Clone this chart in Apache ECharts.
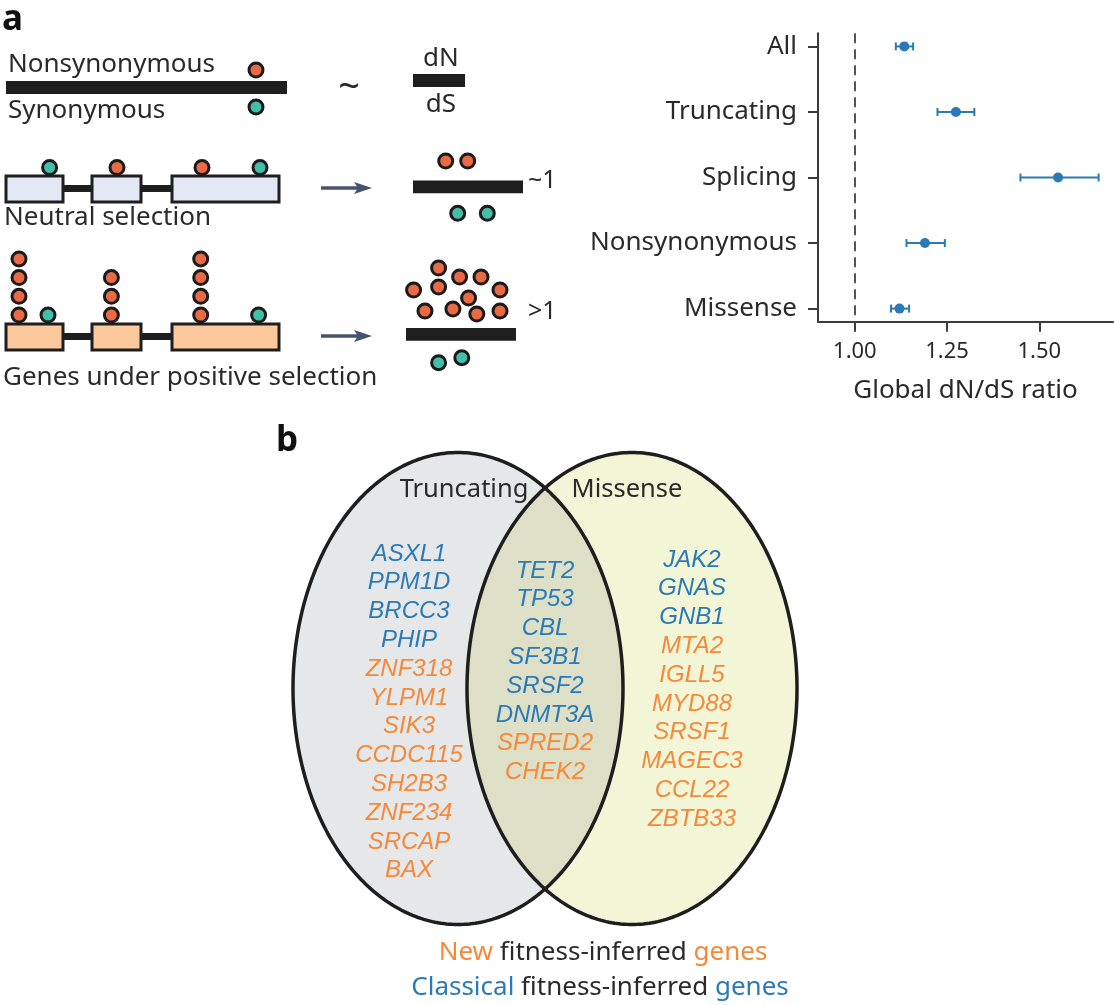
<!DOCTYPE html>
<html>
<head>
<meta charset="utf-8">
<script src="https://cdn.jsdelivr.net/npm/echarts@6/dist/echarts.min.js"></script>
<style>html,body{margin:0;padding:0;background:#fff}#chart{width:1114px;height:1005px}</style>
</head>
<body>
<div id="chart"></div>
<script>
// ---- data ----
const categories = ['All', 'Truncating', 'Splicing', 'Nonsynonymous', 'Missense'];
const ratio  = [1.134, 1.274, 1.551, 1.190, 1.121];
const ciLow  = [1.111, 1.224, 1.449, 1.140, 1.098];
const ciHigh = [1.158, 1.324, 1.661, 1.244, 1.147];
const xTickValues = [1.00, 1.25, 1.50];
const xAxisTitle = 'Global dN/dS ratio';

const truncatingOnlyGenes = ['ASXL1','PPM1D','BRCC3','PHIP','ZNF318','YLPM1','SIK3','CCDC115','SH2B3','ZNF234','SRCAP','BAX'];
const sharedGenes = ['TET2','TP53','CBL','SF3B1','SRSF2','DNMT3A','SPRED2','CHEK2'];
const missenseOnlyGenes = ['JAK2','GNAS','GNB1','MTA2','IGLL5','MYD88','SRSF1','MAGEC3','CCL22','ZBTB33'];
const classicalGenes = ['ASXL1','PPM1D','BRCC3','PHIP','TET2','TP53','CBL','SF3B1','SRSF2','DNMT3A','JAK2','GNAS','GNB1'];

// ---- styles ----
const FONT = '"Noto Sans", sans-serif';
const GENE_FONT = '"Liberation Sans", Arial, sans-serif';
const BLUE = '#2a7ab8';
const ORANGE = '#f5893a';
const DARK = '#1e1e1e';
const TXT = '#2a2a2a';
const DOT_O = '#ea6a45';
const DOT_T = '#45bea8';

const chart = echarts.init(document.getElementById('chart'), null, {renderer: 'canvas'});

const g = [];
function txt(x, y, text, opt) {
  opt = opt || {};
  g.push({type: 'text', x: x, y: y, z: 10, style: Object.assign({
    text: text, fill: TXT, fontSize: 26, fontFamily: FONT, align: 'left', verticalAlign: 'middle'
  }, opt)});
}
function rect(x, y, w, h, fill, stroke, lw) {
  g.push({type: 'rect', shape: {x: x, y: y, width: w, height: h}, z: 5,
    style: {fill: fill, stroke: stroke || null, lineWidth: lw || 0}});
}
function dot(x, y, fill) {
  g.push({type: 'circle', shape: {cx: x, cy: y, r: 7}, z: 6,
    style: {fill: fill, stroke: '#1b1b1b', lineWidth: 3}});
}
function arrow(x1, x2, y) {
  g.push({type: 'line', shape: {x1: x1, y1: y, x2: x2 - 12, y2: y}, z: 5,
    style: {stroke: '#46536e', lineWidth: 3.5}});
  g.push({type: 'polygon', shape: {points: [[x2, y], [x2 - 18, y - 6], [x2 - 14, y], [x2 - 18, y + 6]]}, z: 5,
    style: {fill: '#46536e'}});
}
function gene(y, fill) {
  rect(63, y + 9, 30, 7, DARK);
  rect(140, y + 9, 33, 7, DARK);
  [[6, 57], [92, 49], [172, 107]].forEach(b => rect(b[0], y, b[1], 26, fill, DARK, 3));
}

// panel labels
txt(2, 20, 'a', {fontSize: 35, fontWeight: 'bold', fill: '#111'});
txt(276, 441, 'b', {fontSize: 35, fontWeight: 'bold', fill: '#111'});

// row 1
txt(8, 65, 'Nonsynonymous');
rect(6, 81, 281, 13, DARK);
txt(8, 111, 'Synonymous');
dot(256, 70, DOT_O);
dot(256, 107, DOT_T);
txt(349, 88, '~', {align: 'center', fontSize: 38});
txt(441, 59, 'dN', {align: 'center'});
rect(413, 74, 52, 13, DARK);
txt(441, 105, 'dS', {align: 'center'});

// row 2
gene(176, '#e3e8f4');
[[49.6, DOT_T], [117, DOT_O], [202, DOT_O], [260, DOT_T]].forEach(d => dot(d[0], 167.5, d[1]));
txt(4, 218, 'Neutral selection');
arrow(321, 372, 188);
dot(445.7, 161, DOT_O); dot(467.7, 161, DOT_O);
rect(413, 180.5, 110, 12.8, DARK);
txt(528, 181, '~1', {fontSize: 25});
dot(457.7, 213.3, DOT_T); dot(487.3, 213.3, DOT_T);

// row 3
gene(324, '#fbc99b');
const stackY = [315, 296.3, 277.6, 258.9];
[[19, 4], [111.4, 3], [200.7, 4]].forEach(s => { for (let i = 0; i < s[1]; i++) dot(s[0], stackY[i], DOT_O); });
dot(48, 315, DOT_T); dot(258.6, 315, DOT_T);
txt(3, 378, 'Genes under positive selection');
arrow(321, 372, 336);
[[438.6,268],[459.6,277],[481,277],[413.6,290],[438.6,287],[468.6,298],[500,290],[425,311],[452.9,309],[476.8,314],[500,311]]
  .forEach(p => dot(p[0], p[1], DOT_O));
rect(406, 328, 110, 12.8, DARK);
txt(528, 312, '>1', {fontSize: 25});
dot(438.6, 362.7, DOT_T); dot(461.8, 357.7, DOT_T);

// ---- Venn ----
const cy = 688.5, rx = 165, ry = 236, cxL = 458, cxR = 632;
function ellipsePts(cx) {
  const pts = [];
  for (let i = 0; i < 360; i++) {
    const t = i / 360 * Math.PI * 2;
    pts.push([cx + rx * Math.cos(t), cy + ry * Math.sin(t)]);
  }
  return pts;
}
g.push({type: 'polygon', z: 1, shape: {points: ellipsePts(cxL)}, style: {fill: '#e6e7e9'}});
g.push({type: 'polygon', z: 1, shape: {points: ellipsePts(cxR)}, style: {fill: '#f2f6d6'}});
(function () {
  const s = (cxR - cxL) / (2 * rx);
  const dyMax = ry * Math.sqrt(1 - s * s);
  const pts = [];
  const N = 200;
  for (let i = 0; i <= N; i++) {
    const t = -dyMax + 2 * dyMax * i / N;
    pts.push([cxL + rx * Math.sqrt(Math.max(0, 1 - (t / ry) ** 2)), cy + t]);
  }
  for (let i = N; i >= 0; i--) {
    const t = -dyMax + 2 * dyMax * i / N;
    pts.push([cxR - rx * Math.sqrt(Math.max(0, 1 - (t / ry) ** 2)), cy + t]);
  }
  g.push({type: 'polygon', z: 2, shape: {points: pts}, style: {fill: '#dddfc7'}});
})();
g.push({type: 'polygon', z: 3, shape: {points: ellipsePts(cxL)}, style: {fill: null, stroke: DARK, lineWidth: 3.5}});
g.push({type: 'polygon', z: 3, shape: {points: ellipsePts(cxR)}, style: {fill: null, stroke: DARK, lineWidth: 3.5}});

txt(464, 490, 'Truncating', {align: 'center', fontSize: 25.5});
txt(627, 490, 'Missense', {align: 'center', fontSize: 25.5});

function geneColumn(list, cx, y0) {
  list.forEach((name, i) => txt(cx, y0 + i * 28.8, name, {
    align: 'center', fontSize: 24, fontStyle: 'italic', fontFamily: GENE_FONT,
    fill: classicalGenes.indexOf(name) >= 0 ? BLUE : ORANGE
  }));
}
geneColumn(truncatingOnlyGenes, 409, 554);
geneColumn(sharedGenes, 545, 571);
geneColumn(missenseOnlyGenes, 692, 560);

const richBase = {fontSize: 26, fontFamily: FONT};
txt(603, 953, '{o|New} {k|fitness-inferred} {o|genes}', {align: 'center',
  rich: {o: Object.assign({fill: ORANGE}, richBase), k: Object.assign({fill: TXT}, richBase)}});
txt(600, 988, '{b|Classical} {k|fitness-inferred} {b|genes}', {align: 'center',
  rich: {b: Object.assign({fill: BLUE}, richBase), k: Object.assign({fill: TXT}, richBase)}});

// ---- forest plot ----
const AX = '#3c3c3c';
const option = {
  animation: false,
  textStyle: {fontFamily: FONT},
  grid: {left: 818, top: 33.3, width: 295, height: 288.4, containLabel: false, outerBoundsMode: 'none'},
  xAxis: {
    type: 'value', min: 0.9, max: 1.7,
    axisLine: {show: true, onZero: false, lineStyle: {color: AX, width: 2}},
    axisTick: {show: true, length: 10, customValues: xTickValues, lineStyle: {color: AX, width: 2}},
    axisLabel: {customValues: xTickValues, formatter: v => Number(v).toFixed(2), fontSize: 22, color: TXT, margin: 19},
    splitLine: {show: false},
    name: xAxisTitle, nameLocation: 'middle', nameGap: 56,
    nameTextStyle: {fontSize: 26, color: TXT}
  },
  yAxis: {
    type: 'value', inverse: true, min: -0.2, max: 4.2,
    axisLine: {show: true, onZero: false, lineStyle: {color: AX, width: 2}},
    axisTick: {show: true, length: 10, customValues: categories.map((c, i) => i), lineStyle: {color: AX, width: 2}},
    axisLabel: {customValues: categories.map((c, i) => i), formatter: v => categories[Math.round(v)] || '',
      fontSize: 26, color: TXT, margin: 21},
    splitLine: {show: false}
  },
  series: [
    {
      type: 'custom',
      data: categories.map((c, i) => [ciLow[i], ciHigh[i], i]),
      encode: {x: [0, 1], y: 2},
      renderItem: function (params, api) {
        const lo = api.coord([api.value(0), api.value(2)]);
        const hi = api.coord([api.value(1), api.value(2)]);
        const h = 4;
        const st = {stroke: BLUE, lineWidth: 2};
        return {type: 'group', children: [
          {type: 'line', shape: {x1: lo[0], y1: lo[1], x2: hi[0], y2: hi[1]}, style: st},
          {type: 'line', shape: {x1: lo[0], y1: lo[1] - h, x2: lo[0], y2: lo[1] + h}, style: st},
          {type: 'line', shape: {x1: hi[0], y1: hi[1] - h, x2: hi[0], y2: hi[1] + h}, style: st}
        ]};
      },
      z: 3
    },
    {
      type: 'scatter',
      data: categories.map((c, i) => [ratio[i], i]),
      symbolSize: 10,
      itemStyle: {color: BLUE, opacity: 1},
      z: 4,
      markLine: {
        silent: true, symbol: ['none', 'none'], label: {show: false},
        lineStyle: {type: [10, 6], color: '#555', width: 2},
        data: [{xAxis: 1}]
      }
    }
  ],
  graphic: {elements: g}
};
chart.setOption(option);
</script>
</body>
</html>
